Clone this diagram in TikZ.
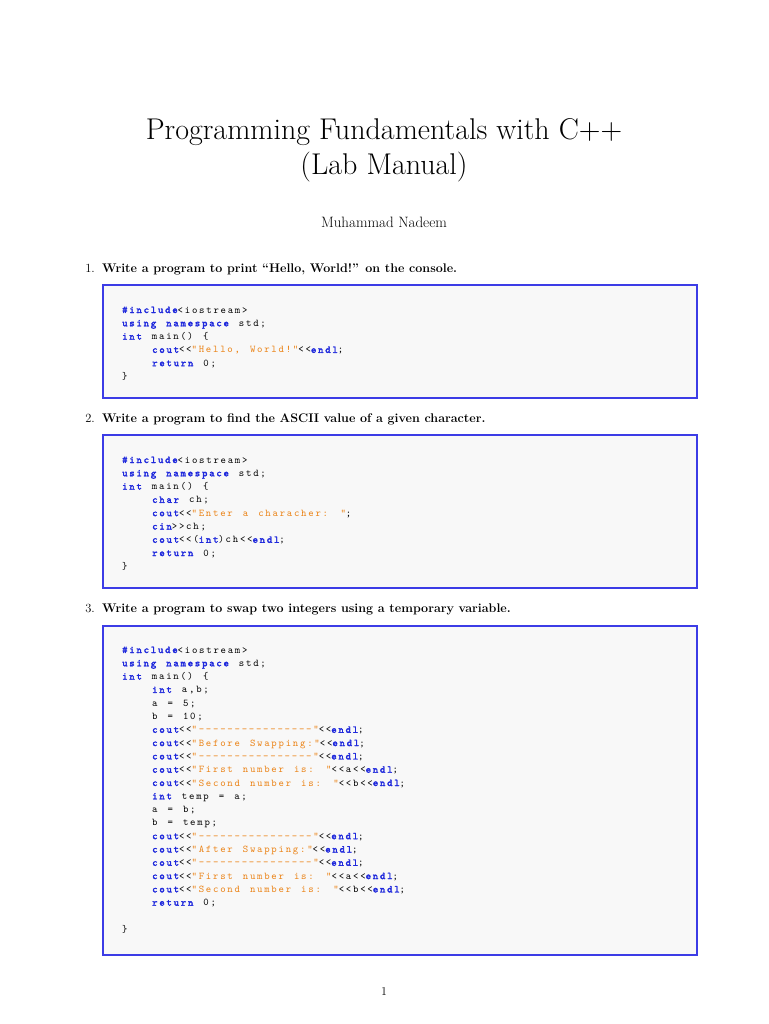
\documentclass[tikz,border=0pt]{standalone}
\usepackage{fontspec}
\newfontfamily\codefam[LetterSpace=17,WordSpace=1.4]{Latin Modern Mono}
\newfontfamily\codebold[LetterSpace=17,WordSpace=1.4,FakeBold=2.5]{Latin Modern Mono}
\definecolor{kw}{RGB}{30,40,220}
\definecolor{st}{RGB}{235,130,20}
\definecolor{bx}{RGB}{60,60,230}
\definecolor{bg}{RGB}{248,248,248}
\newcommand\kw[1]{\textcolor{kw}{\codebold #1}}
\newcommand\st[1]{\textcolor{st}{#1}}
\begin{document}
\begin{tikzpicture}[x=1pt,y=-1pt,
  cl/.style={anchor=base west,inner sep=0,font=\codefam\fontsize{10.3}{12}\selectfont},
  ql/.style={anchor=base west,inner sep=0,font=\bfseries\fontsize{12.5}{14}\selectfont},
  codebox/.style={draw=bx,line width=1.3pt,fill=bg}]
\useasboundingbox (0,0) rectangle (768,1024);
\node[font=\fontsize{30}{34}\selectfont,anchor=base] (t1) at (384,140) {Programming Fundamentals with C++};
\node[font=\fontsize{30}{34}\selectfont,anchor=base] (t2) at (384,175) {(Lab Manual)};
\node[font=\fontsize{15}{17}\selectfont,anchor=base] (au) at (384,227) {Muhammad Nadeem};
% Q1
\node[ql,anchor=base east] (n1) at (95,272) {\mdseries 1.};
\node[ql] (q1) at (102,272) {Write a program to print ``Hello, World!'' on the console.};
\draw[codebox] (103,285) rectangle (697,398);
\node[cl] (a1) at (122,313) {\kw{\#include}<iostream>};
\node[cl] (a2) at (122,326.3) {\kw{using namespace} std;};
\node[cl] (a3) at (122,339.6) {\kw{int} main() \{};
\node[cl] (a4) at (152,352.9) {\kw{cout}<<\st{"Hello, World!"}<<\kw{endl};};
\node[cl] (a5) at (152,366.2) {\kw{return} 0;};
\node[cl] (a6) at (122,379.5) {\}};
% Q2
\node[ql,anchor=base east] (n2) at (95,422) {\mdseries 2.};
\node[ql] (q2) at (102,422) {Write a program to find the ASCII value of a given character.};
\draw[codebox] (103,435) rectangle (697,588);
\node[cl] (b1) at (122,463) {\kw{\#include}<iostream>};
\node[cl] (b2) at (122,476.3) {\kw{using namespace} std;};
\node[cl] (b3) at (122,489.6) {\kw{int} main() \{};
\node[cl] (b4) at (152,502.9) {\kw{char} ch;};
\node[cl] (b5) at (152,516.2) {\kw{cout}<<\st{"Enter a characher: "};};
\node[cl] (b6) at (152,529.5) {\kw{cin}>>ch;};
\node[cl] (b7) at (152,542.8) {\kw{cout}<<(\kw{int})ch<<\kw{endl};};
\node[cl] (b8) at (152,556.1) {\kw{return} 0;};
\node[cl] (b9) at (122,569.4) {\}};
% Q3
\node[ql,anchor=base east] (n3) at (95,612) {\mdseries 3.};
\node[ql] (q3) at (102,612) {Write a program to swap two integers using a temporary variable.};
\draw[codebox] (103,626) rectangle (697,955);
\node[cl] (c1) at (122,653) {\kw{\#include}<iostream>};
\node[cl] (c2) at (122,666.3) {\kw{using namespace} std;};
\node[cl] (c3) at (122,679.6) {\kw{int} main() \{};
\node[cl] (c4) at (152,692.9) {\kw{int} a,b;};
\node[cl] (c5) at (152,706.2) {a = 5;};
\node[cl] (c6) at (152,719.5) {b = 10;};
\node[cl] (c7) at (152,732.8) {\kw{cout}<<\st{"----------------"}<<\kw{endl};};
\node[cl] (c8) at (152,746.1) {\kw{cout}<<\st{"Before Swapping:"}<<\kw{endl};};
\node[cl] (c9) at (152,759.4) {\kw{cout}<<\st{"----------------"}<<\kw{endl};};
\node[cl] (c10) at (152,772.7) {\kw{cout}<<\st{"First number is: "}<<a<<\kw{endl};};
\node[cl] (c11) at (152,786.0) {\kw{cout}<<\st{"Second number is: "}<<b<<\kw{endl};};
\node[cl] (c12) at (152,799.3) {\kw{int} temp = a;};
\node[cl] (c13) at (152,812.6) {a = b;};
\node[cl] (c14) at (152,825.9) {b = temp;};
\node[cl] (c15) at (152,839.2) {\kw{cout}<<\st{"----------------"}<<\kw{endl};};
\node[cl] (c16) at (152,852.5) {\kw{cout}<<\st{"After Swapping:"}<<\kw{endl};};
\node[cl] (c17) at (152,865.8) {\kw{cout}<<\st{"----------------"}<<\kw{endl};};
\node[cl] (c18) at (152,879.1) {\kw{cout}<<\st{"First number is: "}<<a<<\kw{endl};};
\node[cl] (c19) at (152,892.4) {\kw{cout}<<\st{"Second number is: "}<<b<<\kw{endl};};
\node[cl] (c20) at (152,905.7) {\kw{return} 0;};
\node[cl] (c21) at (122,932.3) {\}};
\node[font=\fontsize{12}{14}\selectfont,anchor=base] (pg) at (384,995) {1};
\end{tikzpicture}
\end{document}
